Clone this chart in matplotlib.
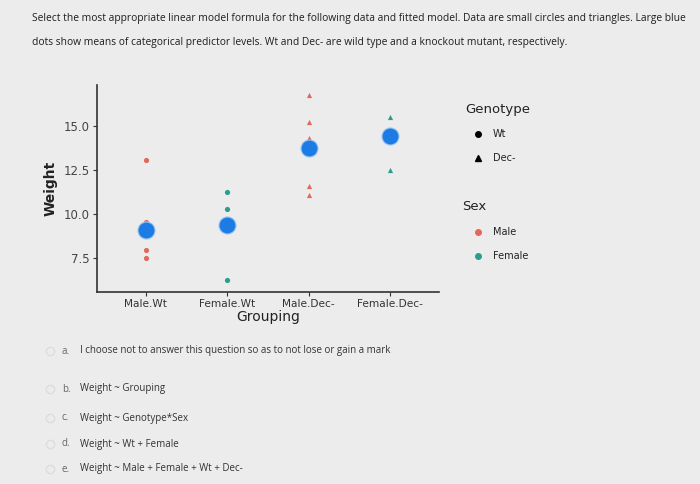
import numpy as np
import matplotlib.pyplot as plt

# Данные
groups = ["Male.Wt", "Female.Wt", "Male.Dec-", "Female.Dec-"]
male_wt = [13.06, 9.57, 7.97, 7.54]
female_wt = [11.25, 10.27, 6.28]
male_dec = [16.73, 15.23, 14.32, 11.59, 11.06]
female_dec = [15.51, 14.75, 14.13, 12.49]
group_means = [9.10, 9.38, 13.76, 14.42]

yticks = [7.5, 10.0, 12.5, 15.0]

red = "#E2685E"
teal = "#2A9D8C"
blue = "#1C7CE3"
bg = "#ECECEC"

fig = plt.figure(figsize=(7, 4.84), dpi=100, facecolor=bg)
plt.rcParams['font.family'] = ['DejaVu Sans']

# Текст вопроса
question = ("Select the most appropriate linear model formula for the following data and fitted model. "
            "Data are small circles and triangles. Large blue\n"
            "dots show means of categorical predictor levels. Wt and Dec- are wild type and a knockout mutant, respectively.")
fig.text(32 / 700, 1 - 13 / 484, question, family='Open Sans', fontsize=7.35,
         va='top', ha='left', color='#1E1E1E', linespacing=2.6)

ax = fig.add_axes([96.7 / 700, 1 - 291.7 / 484, (439 - 96.7) / 700, (291.7 - 85) / 484])
ax.set_facecolor(bg)

samples = [male_wt, female_wt, male_dec, female_dec]
colors = [red, teal, red, teal]
markers = ['o', 'o', '^', '^']
for i, vals in enumerate(samples):
    ax.scatter(np.full(len(vals), i + 1), vals, s=14, color=colors[i], marker=markers[i],
               zorder=2, linewidths=0)
ax.scatter(np.arange(1, 5), group_means, s=150, color=blue, zorder=3,
           edgecolors='#9CC4F0', linewidths=0.8)

ax.set_xlim(0.4, 4.6)
ax.set_ylim(5.62, 17.3)
ax.set_xticks(np.arange(1, 5))
ax.set_xticklabels(groups, fontsize=7.6, color='#333333')
ax.set_yticks(yticks)
ax.set_yticklabels([f"{v:.1f}" for v in yticks], fontsize=8.5, color='#444444')
ax.tick_params(length=3, width=0.8, color='#333333', pad=2)
for s in ['top', 'right']:
    ax.spines[s].set_visible(False)
for s in ['left', 'bottom']:
    ax.spines[s].set_linewidth(1.2)
    ax.spines[s].set_color('#333333')
ax.set_xlabel("Grouping", fontsize=10, color='#222222', labelpad=1)
ax.set_ylabel("Weight", fontsize=10, color='#222222', fontweight='bold', labelpad=4)

# Легенда
fig.text(465 / 700, 1 - 109 / 484, "Genotype", fontsize=9.5, va='center', color='#222222')
fig.text(462 / 700, 1 - 206 / 484, "Sex", fontsize=9.5, va='center', color='#222222')
leg_items = [("Wt", 'o', 'black', 134), ("Dec-", '^', 'black', 158),
             ("Male", 'o', red, 232), ("Female", 'o', teal, 256)]
for label, mk, c, y in leg_items:
    fig.lines.append(plt.Line2D([478 / 700], [1 - y / 484], marker=mk, color=c,
                                markersize=4, transform=fig.transFigure, linestyle=''))
    fig.text(493 / 700, 1 - y / 484, label, fontsize=7, va='center', color='#222222')

# Варианты ответа
options = [("a.", "I choose not to answer this question so as to not lose or gain a mark", 351),
           ("b.", "Weight ~ Grouping", 389),
           ("c.", "Weight ~ Genotype*Sex", 418),
           ("d.", "Weight ~ Wt + Female", 444),
           ("e.", "Weight ~ Male + Female + Wt + Dec-", 469)]
for letter, txt, y in options:
    fig.text(62 / 700, 1 - y / 484, letter, family='Open Sans', fontsize=7,
             va='center', color='#666666')
    fig.text(80 / 700, 1 - y / 484, txt, family='Open Sans', fontsize=7.0,
             va='center', color='#333333')
    fig.lines.append(plt.Line2D([50 / 700], [1 - y / 484], marker='o', markersize=6,
                                markerfacecolor='none', markeredgecolor='#DDDDDD',
                                transform=fig.transFigure, linestyle=''))

fig.savefig("out.png", dpi=100, facecolor=bg)
